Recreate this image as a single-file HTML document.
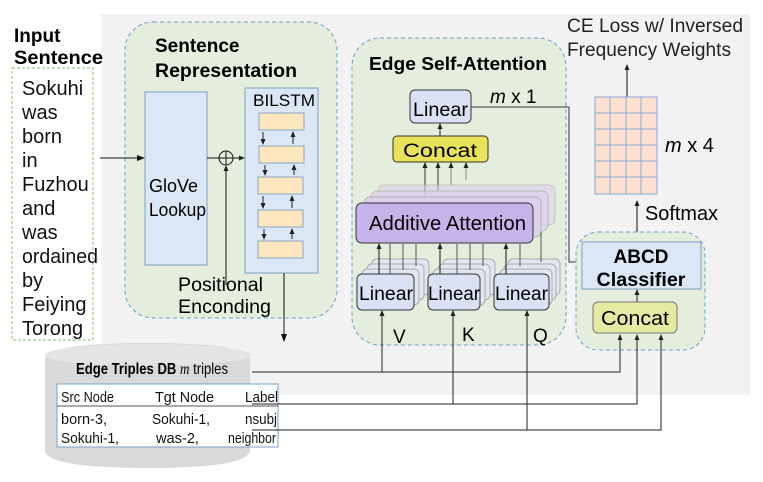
<!DOCTYPE html>
<html><head><meta charset="utf-8"><style>
html,body{margin:0;padding:0;background:#fff;}
svg{display:block;font-family:"Liberation Sans",Arial,sans-serif;}
</style></head><body>
<svg width="763" height="482" viewBox="0 0 763 482" xmlns="http://www.w3.org/2000/svg">
<defs>
<marker id="a" markerWidth="8" markerHeight="8" refX="7" refY="4" orient="auto" markerUnits="userSpaceOnUse"><path d="M0,1 L8,4 L0,7 z" fill="#111"/></marker>
<marker id="s" markerWidth="6" markerHeight="6" refX="5" refY="3" orient="auto" markerUnits="userSpaceOnUse"><path d="M0,0.5 L6,3 L0,5.5 z" fill="#222"/></marker>
</defs>
<rect x="101" y="14" width="649" height="381" fill="#f2f2f2"/>
<!-- Input sentence -->
<text x="14" y="42" font-size="19" font-weight="bold">Input</text>
<text x="14" y="64" font-size="19" font-weight="bold" textLength="89" lengthAdjust="spacingAndGlyphs">Sentence</text>
<rect x="12" y="68" width="81" height="272" fill="#fff" stroke="#8cc070" stroke-dasharray="3,2"/>
<g font-size="20" fill="#111">
<text x="22" y="95">Sokuhi</text><text x="22" y="119">was</text><text x="22" y="143">born</text><text x="22" y="167">in</text><text x="22" y="191">Fuzhou</text><text x="22" y="215">and</text><text x="22" y="239">was</text><text x="22" y="263" textLength="76" lengthAdjust="spacingAndGlyphs">ordained</text><text x="22" y="287">by</text><text x="22" y="311">Feiying</text><text x="22" y="335">Torong</text>
</g>
<!-- Sentence Representation -->
<rect x="125" y="22" width="212" height="296" rx="28" fill="#e5eedc" stroke="#6a9fd0" stroke-dasharray="4,3"/>
<text x="155" y="52" font-size="19" font-weight="bold">Sentence</text>
<text x="155" y="77" font-size="19" font-weight="bold" textLength="142" lengthAdjust="spacingAndGlyphs">Representation</text>
<rect x="145" y="92" width="62" height="173" fill="#dbe7f4" stroke="#7aa0c8"/>
<text x="149" y="192" font-size="18">GloVe</text>
<text x="149" y="216" font-size="18" textLength="57" lengthAdjust="spacingAndGlyphs">Lookup</text>
<line x1="100" y1="158" x2="144" y2="158" stroke="#111" marker-end="url(#a)"/>
<line x1="207" y1="158" x2="219" y2="158" stroke="#111"/>
<circle cx="226" cy="158" r="7" fill="none" stroke="#111"/>
<line x1="219" y1="158" x2="233" y2="158" stroke="#111"/><line x1="226" y1="151" x2="226" y2="165" stroke="#111"/>
<line x1="233" y1="158" x2="244" y2="158" stroke="#111" marker-end="url(#s)"/>
<line x1="226" y1="285" x2="226" y2="166" stroke="#111" marker-end="url(#s)"/>
<rect x="245" y="88" width="73" height="185" fill="#dbe7f4" stroke="#7aa0c8"/>
<text x="253" y="106" font-size="17" textLength="62" lengthAdjust="spacingAndGlyphs">BILSTM</text>
<g fill="#fbe6bd" stroke="#8aa4c4">
<rect x="259" y="113" width="45" height="17"/><rect x="259" y="146" width="45" height="17"/><rect x="258" y="177" width="45" height="17"/><rect x="258" y="210" width="45" height="17"/><rect x="258" y="241" width="45" height="17"/>
</g>
<g stroke="#222">
<line x1="263" y1="132" x2="263" y2="144" marker-end="url(#s)"/><line x1="293" y1="144" x2="293" y2="132" marker-end="url(#s)"/>
<line x1="265" y1="165" x2="265" y2="175" marker-end="url(#s)"/><line x1="294" y1="175" x2="294" y2="165" marker-end="url(#s)"/>
<line x1="263" y1="196" x2="263" y2="208" marker-end="url(#s)"/><line x1="292" y1="208" x2="292" y2="196" marker-end="url(#s)"/>
<line x1="264" y1="229" x2="264" y2="239" marker-end="url(#s)"/><line x1="292" y1="239" x2="292" y2="229" marker-end="url(#s)"/>
</g>
<text x="178" y="291" font-size="19" textLength="85" lengthAdjust="spacingAndGlyphs">Positional</text>
<text x="178" y="313" font-size="19" textLength="93" lengthAdjust="spacingAndGlyphs">Enconding</text>
<line x1="284" y1="273" x2="284" y2="341" stroke="#111" marker-end="url(#a)"/>
<!-- Edge Self-Attention -->
<rect x="352" y="38" width="214" height="307" rx="28" fill="#e5eedc" stroke="#6a9fd0" stroke-dasharray="4,3"/>
<text x="369" y="70" font-size="18" font-weight="bold" textLength="178" lengthAdjust="spacingAndGlyphs">Edge Self-Attention</text>
<rect x="410" y="90" width="61" height="33" rx="5" fill="#dbe1f4" stroke="#333"/>
<text x="413" y="116" font-size="19" textLength="55" lengthAdjust="spacingAndGlyphs">Linear</text>
<text x="490" y="103" font-size="19"><tspan font-style="italic">m</tspan> x 1</text>
<line x1="440" y1="136" x2="440" y2="124" stroke="#222" marker-end="url(#s)"/>
<rect x="393" y="136" width="95" height="26" rx="4" fill="#e8e25a" stroke="#333"/>
<text x="403" y="157" font-size="19" textLength="74" lengthAdjust="spacingAndGlyphs">Concat</text>
<g stroke="#333"><line x1="425" y1="200" x2="425" y2="163" marker-end="url(#s)"/><line x1="438" y1="190" x2="438" y2="163" marker-end="url(#s)"/></g>
<g stroke="#888"><line x1="451" y1="185" x2="451" y2="163" marker-end="url(#s)"/><line x1="466" y1="180" x2="466" y2="163" marker-end="url(#s)"/></g>
<g stroke="#aaa" fill="#ddd0ee">
<rect x="378" y="185" width="177" height="40" rx="6" opacity="0.6"/>
<rect x="371" y="191" width="177" height="40" rx="6" opacity="0.7"/>
<rect x="364" y="197" width="177" height="40" rx="6" opacity="0.8"/>
</g>
<rect x="356" y="203" width="177" height="40" rx="6" fill="#c7b2ea" stroke="#333"/>
<text x="369" y="230" font-size="20" textLength="157" lengthAdjust="spacingAndGlyphs">Additive Attention</text>
<g fill="#e2e5f2" stroke="#aaa">
<rect x="372" y="259" width="57" height="36" rx="5"/><rect x="367" y="264" width="57" height="36" rx="5"/><rect x="362" y="269" width="57" height="36" rx="5"/>
<rect x="443" y="259" width="52" height="36" rx="5"/><rect x="438" y="264" width="52" height="36" rx="5"/><rect x="433" y="269" width="52" height="36" rx="5"/>
<rect x="508" y="259" width="52" height="36" rx="5"/><rect x="504" y="264" width="52" height="36" rx="5"/><rect x="500" y="269" width="52" height="36" rx="5"/>
</g>
<g stroke="#555">
<line x1="390" y1="274" x2="390" y2="244"/><line x1="403" y1="270" x2="403" y2="244"/><line x1="416" y1="266" x2="416" y2="244"/>
<line x1="457" y1="274" x2="457" y2="244"/><line x1="470" y1="270" x2="470" y2="244"/><line x1="483" y1="266" x2="483" y2="244"/>
<line x1="520" y1="266" x2="520" y2="244"/><line x1="541" y1="262" x2="541" y2="232"/>
</g>
<g stroke="#111">
<line x1="379" y1="274" x2="379" y2="244" marker-end="url(#s)"/><line x1="440" y1="274" x2="440" y2="244" marker-end="url(#s)"/><line x1="506" y1="274" x2="506" y2="244" marker-end="url(#s)"/>
</g>
<rect x="357" y="274" width="57" height="36" rx="5" fill="#dbe1f4" stroke="#333"/>
<rect x="428" y="274" width="52" height="36" rx="5" fill="#dbe1f4" stroke="#333"/>
<rect x="494" y="274" width="55" height="36" rx="5" fill="#dbe1f4" stroke="#333"/>
<text x="359" y="300" font-size="19" textLength="54" lengthAdjust="spacingAndGlyphs">Linear</text><text x="428" y="300" font-size="19" textLength="52" lengthAdjust="spacingAndGlyphs">Linear</text><text x="495" y="300" font-size="19" textLength="53" lengthAdjust="spacingAndGlyphs">Linear</text>
<text x="393" y="343" font-size="19">V</text><text x="462" y="341" font-size="19">K</text><text x="533" y="342" font-size="19">Q</text>
<!-- CE Loss / matrix -->
<text x="567" y="32" font-size="19" fill="#222" textLength="176" lengthAdjust="spacingAndGlyphs">CE Loss w/ Inversed</text>
<text x="567" y="56" font-size="19" fill="#222" textLength="164" lengthAdjust="spacingAndGlyphs">Frequency Weights</text>
<line x1="627" y1="97" x2="627" y2="65" stroke="#111" marker-end="url(#s)"/>
<rect x="595" y="97" width="62" height="97" fill="#fde1d0" stroke="#8aa8d8"/>
<g stroke="#8aa8d8"><line x1="610" y1="97" x2="610" y2="194"/><line x1="626" y1="97" x2="626" y2="194"/><line x1="641" y1="97" x2="641" y2="194"/>
<line x1="595" y1="113" x2="657" y2="113"/><line x1="595" y1="129" x2="657" y2="129"/><line x1="595" y1="145" x2="657" y2="145"/><line x1="595" y1="161" x2="657" y2="161"/><line x1="595" y1="177" x2="657" y2="177"/></g>
<text x="665" y="152" font-size="20"><tspan font-style="italic">m</tspan> x 4</text>
<line x1="637" y1="232" x2="637" y2="201" stroke="#111" marker-end="url(#s)"/>
<text x="645" y="220" font-size="20" textLength="73" lengthAdjust="spacingAndGlyphs">Softmax</text>
<!-- m x 1 connector -->
<polyline points="471,107 569,107 569,262 594,262" fill="none" stroke="#333" marker-end="url(#a)"/>
<!-- ABCD -->
<rect x="576" y="232" width="129" height="118" rx="22" fill="#e5eedc" stroke="#6a9fd0" stroke-dasharray="4,3"/>
<rect x="582" y="242" width="119" height="47" fill="#dbe7f4" stroke="#7aa0c8"/>
<text x="641" y="263" font-size="19" font-weight="bold" text-anchor="middle">ABCD</text>
<text x="641" y="286" font-size="19" font-weight="bold" text-anchor="middle" textLength="89" lengthAdjust="spacingAndGlyphs">Classifier</text>
<line x1="637" y1="302" x2="637" y2="290" stroke="#222" marker-end="url(#s)"/>
<rect x="593" y="302" width="84" height="31" rx="5" fill="#e4eaa2" stroke="#777"/>
<text x="601" y="325" font-size="20" textLength="68" lengthAdjust="spacingAndGlyphs">Concat</text>
<!-- DB cylinder -->
<path d="M45,360 Q45,343 148,343 Q250,343 250,360 L250,450 Q250,468 148,468 Q45,468 45,450 Z" fill="#d9d9d9"/>
<ellipse cx="148" cy="355" rx="103" ry="11" fill="#e4e4e4"/>
<text x="76" y="374" font-size="16" font-weight="bold" textLength="152" lengthAdjust="spacingAndGlyphs">Edge Triples DB <tspan font-family="Liberation Serif" font-style="italic" font-weight="normal">m</tspan> <tspan font-weight="normal">triples</tspan></text>
<rect x="57" y="384" width="221" height="63" fill="#fff" stroke="#7aa0c8"/>
<line x1="57" y1="406" x2="278" y2="406" stroke="#555"/>
<g font-size="15" fill="#111">
<text x="61" y="402" textLength="53" lengthAdjust="spacingAndGlyphs">Src Node</text><text x="155" y="402" textLength="59" lengthAdjust="spacingAndGlyphs">Tgt Node</text><text x="245" y="402" textLength="33" lengthAdjust="spacingAndGlyphs">Label</text>
<text x="61" y="424" textLength="46" lengthAdjust="spacingAndGlyphs">born-3,</text><text x="152" y="424" textLength="58" lengthAdjust="spacingAndGlyphs">Sokuhi-1,</text><text x="245" y="424" textLength="32" lengthAdjust="spacingAndGlyphs">nsubj</text>
<text x="61" y="443" textLength="58" lengthAdjust="spacingAndGlyphs">Sokuhi-1,</text><text x="156" y="443" textLength="43" lengthAdjust="spacingAndGlyphs">was-2,</text><text x="228" y="443" textLength="48" lengthAdjust="spacingAndGlyphs">neighbor</text>
</g>
<!-- connectors -->
<g stroke="#222" fill="none">
<polyline points="252,372 620,372 620,335" marker-end="url(#s)"/>
<polyline points="252,404 637,404 637,335" marker-end="url(#s)"/>
<polyline points="252,430 661,430 661,335" marker-end="url(#s)"/>
<line x1="382" y1="372" x2="382" y2="311" marker-end="url(#s)"/>
<line x1="453" y1="404" x2="453" y2="311" marker-end="url(#s)"/>
<line x1="527" y1="430" x2="527" y2="311" marker-end="url(#s)"/>
</g>
</svg>
</body></html>
